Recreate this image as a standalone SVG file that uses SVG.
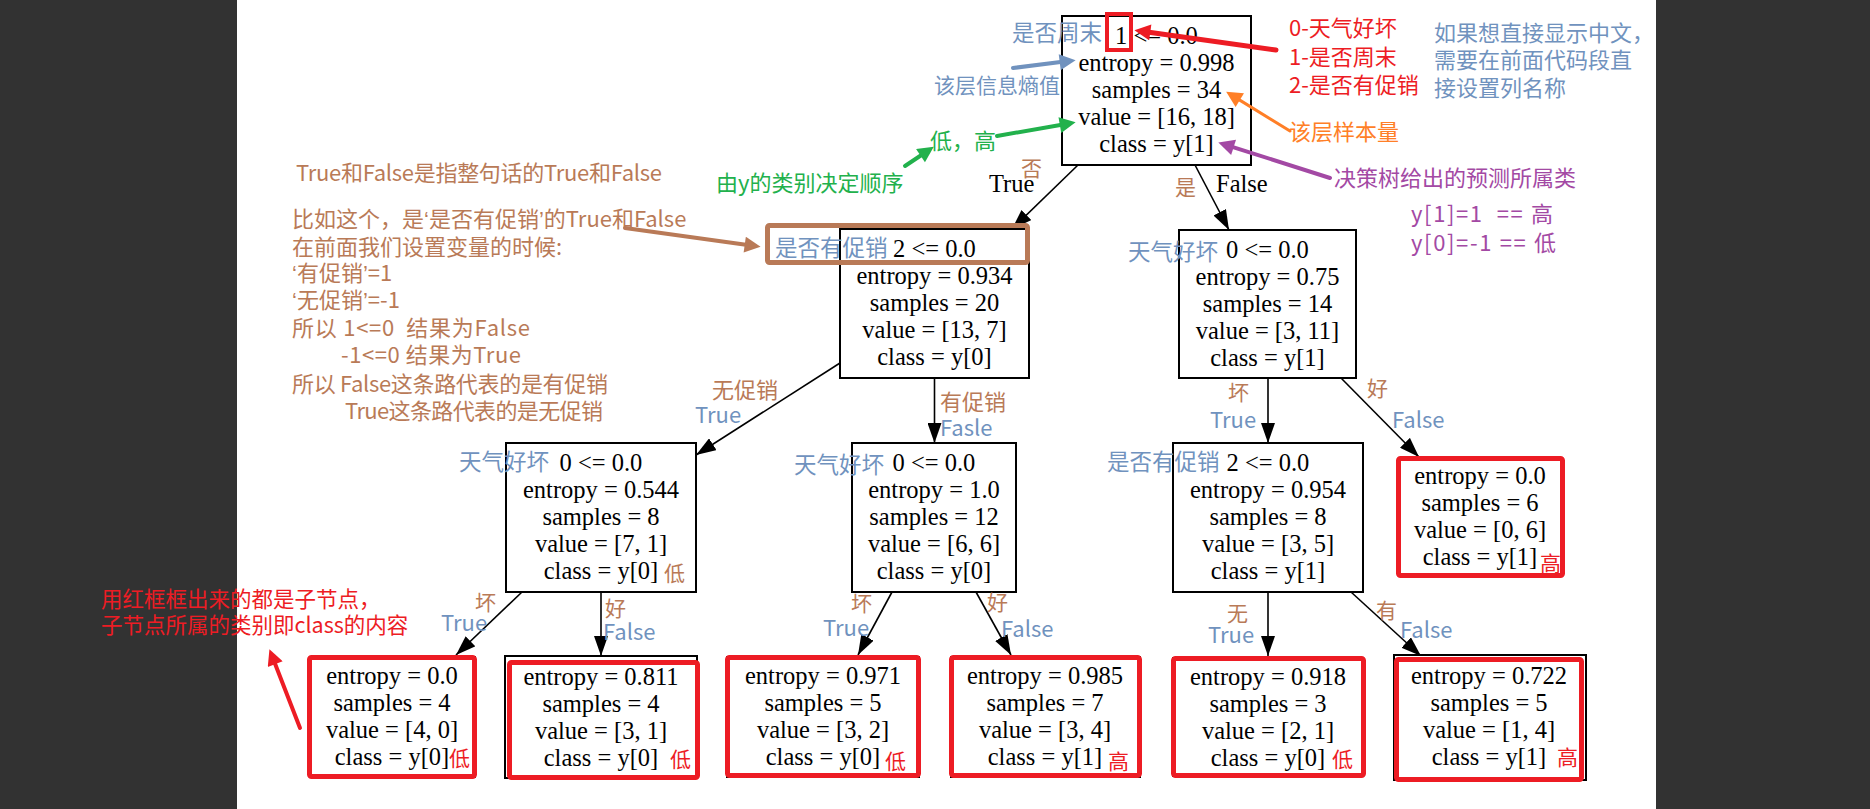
<svg xmlns="http://www.w3.org/2000/svg" width="1870" height="809" viewBox="0 0 1870 809">
<defs>
<style>
.nb{fill:#fff;stroke:#000;stroke-width:2}
.nt{font-family:"Liberation Serif","Times New Roman",serif;font-size:24.5px;fill:#000;text-anchor:middle}
.et{font-family:"Liberation Serif","Times New Roman",serif;font-size:24.5px;fill:#000}
.e{stroke:#000;stroke-width:1.6;fill:none;marker-end:url(#ah)}
.cj{font-family:"Noto Sans CJK SC","Noto Sans",sans-serif;font-size:21px}
.fl{font-size:22.5px}
.el{font-size:22px}
.an22{font-size:22px}
.q{font-family:"Liberation Sans",sans-serif}
.br{fill:#B97A57}.bl{fill:#7092BE}.rd{fill:#ED1C24}.gr{fill:#22B14C}.pu{fill:#A349A4}.or{fill:#FF7F27}
.leaf{fill:none;stroke:#ED1C24;stroke-width:5}
.an{fill:none;stroke-linecap:round}
</style>
<marker id="ah" viewBox="0 0 20 14" refX="20" refY="7" markerWidth="20" markerHeight="14" markerUnits="userSpaceOnUse" orient="auto"><path d="M0,0 L20,7 L0,14 z" fill="#000"/></marker>
<marker id="mRed" viewBox="0 0 10 10" refX="3" refY="5" markerWidth="18" markerHeight="16" markerUnits="userSpaceOnUse" orient="auto"><path d="M0,0 L10,5 L0,10 z" fill="#ED1C24"/></marker>
<marker id="mBlue" viewBox="0 0 10 10" refX="3" refY="5" markerWidth="18" markerHeight="16" markerUnits="userSpaceOnUse" orient="auto"><path d="M0,0 L10,5 L0,10 z" fill="#7092BE"/></marker>
<marker id="mGreen" viewBox="0 0 10 10" refX="3" refY="5" markerWidth="18" markerHeight="16" markerUnits="userSpaceOnUse" orient="auto"><path d="M0,0 L10,5 L0,10 z" fill="#22B14C"/></marker>
<marker id="mOrange" viewBox="0 0 10 10" refX="3" refY="5" markerWidth="18" markerHeight="16" markerUnits="userSpaceOnUse" orient="auto"><path d="M0,0 L10,5 L0,10 z" fill="#FF7F27"/></marker>
<marker id="mPurple" viewBox="0 0 10 10" refX="3" refY="5" markerWidth="18" markerHeight="16" markerUnits="userSpaceOnUse" orient="auto"><path d="M0,0 L10,5 L0,10 z" fill="#A349A4"/></marker>
<marker id="mBrown" viewBox="0 0 10 10" refX="3" refY="5" markerWidth="18" markerHeight="16" markerUnits="userSpaceOnUse" orient="auto"><path d="M0,0 L10,5 L0,10 z" fill="#B97A57"/></marker>
</defs>

<rect x="0" y="0" width="1870" height="809" fill="#323232"/>
<rect x="237" y="0" width="1419" height="809" fill="#fff"/>

<g id="connectors">
<line class="e" x1="1078" y1="165" x2="1012" y2="229"/>
<line class="e" x1="1195" y1="165" x2="1229" y2="230"/>
<line class="e" x1="840" y1="363" x2="696" y2="455"/>
<line class="e" x1="934.5" y1="378" x2="934.5" y2="443"/>
<line class="e" x1="1268" y1="378" x2="1268" y2="443"/>
<line class="e" x1="1341" y1="378" x2="1419" y2="457"/>
<line class="e" x1="522" y1="592" x2="456" y2="655"/>
<line class="e" x1="601" y1="592" x2="601" y2="656"/>
<line class="e" x1="892" y1="592" x2="858" y2="655"/>
<line class="e" x1="976" y1="592" x2="1011" y2="655"/>
<line class="e" x1="1268" y1="592" x2="1268" y2="656"/>
<line class="e" x1="1351" y1="592" x2="1421" y2="656"/>
</g>

<g id="node-root">
<rect class="nb" x="1062" y="16" width="189" height="149"/>
<text class="nt" x="1156.5" y="44">1 &lt;= 0.0</text>
<text class="nt" x="1156.5" y="71">entropy = 0.998</text>
<text class="nt" x="1156.5" y="98">samples = 34</text>
<text class="nt" x="1156.5" y="125">value = [16, 18]</text>
<text class="nt" x="1156.5" y="152">class = y[1]</text>
</g>
<g id="node-a">
<rect class="nb" x="840" y="229" width="189" height="149"/>
<text class="nt" x="934.5" y="257">2 &lt;= 0.0</text>
<text class="nt" x="934.5" y="284">entropy = 0.934</text>
<text class="nt" x="934.5" y="311">samples = 20</text>
<text class="nt" x="934.5" y="338">value = [13, 7]</text>
<text class="nt" x="934.5" y="365">class = y[0]</text>
</g>
<g id="node-b">
<rect class="nb" x="1179" y="230" width="177" height="148"/>
<text class="nt" x="1267.5" y="258">0 &lt;= 0.0</text>
<text class="nt" x="1267.5" y="285">entropy = 0.75</text>
<text class="nt" x="1267.5" y="312">samples = 14</text>
<text class="nt" x="1267.5" y="339">value = [3, 11]</text>
<text class="nt" x="1267.5" y="366">class = y[1]</text>
</g>
<g id="node-c">
<rect class="nb" x="506" y="443" width="190" height="149"/>
<text class="nt" x="601" y="471">0 &lt;= 0.0</text>
<text class="nt" x="601" y="498">entropy = 0.544</text>
<text class="nt" x="601" y="525">samples = 8</text>
<text class="nt" x="601" y="552">value = [7, 1]</text>
<text class="nt" x="601" y="579">class = y[0]</text>
</g>
<g id="node-d">
<rect class="nb" x="852" y="443" width="164" height="149"/>
<text class="nt" x="934" y="471">0 &lt;= 0.0</text>
<text class="nt" x="934" y="498">entropy = 1.0</text>
<text class="nt" x="934" y="525">samples = 12</text>
<text class="nt" x="934" y="552">value = [6, 6]</text>
<text class="nt" x="934" y="579">class = y[0]</text>
</g>
<g id="node-e">
<rect class="nb" x="1173" y="443" width="190" height="149"/>
<text class="nt" x="1268" y="471">2 &lt;= 0.0</text>
<text class="nt" x="1268" y="498">entropy = 0.954</text>
<text class="nt" x="1268" y="525">samples = 8</text>
<text class="nt" x="1268" y="552">value = [3, 5]</text>
<text class="nt" x="1268" y="579">class = y[1]</text>
</g>
<g id="node-f">
<rect class="nb" x="1400" y="459" width="161" height="117"/>
<rect class="leaf" x="1398.5" y="458.5" width="164" height="117" rx="2"/>
<text class="nt" x="1480" y="484">entropy = 0.0</text>
<text class="nt" x="1480" y="511">samples = 6</text>
<text class="nt" x="1480" y="538">value = [0, 6]</text>
<text class="nt" x="1480" y="565">class = y[1]</text>
<text class="cj rd" x="1540" y="571">高</text>
</g>
<g id="node-g">
<rect class="nb" x="310" y="657" width="165" height="120"/>
<rect class="leaf" x="309.5" y="657.5" width="165" height="119" rx="2"/>
<text class="nt" x="392" y="684">entropy = 0.0</text>
<text class="nt" x="392" y="711">samples = 4</text>
<text class="nt" x="392" y="738">value = [4, 0]</text>
<text class="nt" x="392" y="765">class = y[0]</text>
<text class="cj rd" x="449" y="766">低</text>
</g>
<g id="node-h">
<rect class="nb" x="505" y="656" width="192" height="122"/>
<rect class="leaf" x="509.5" y="662.5" width="188" height="115" rx="2"/>
<text class="nt" x="601" y="685">entropy = 0.811</text>
<text class="nt" x="601" y="712">samples = 4</text>
<text class="nt" x="601" y="739">value = [3, 1]</text>
<text class="nt" x="601" y="766">class = y[0]</text>
<text class="cj rd" x="670" y="767">低</text>
</g>
<g id="node-i">
<rect class="nb" x="727" y="657" width="192" height="120"/>
<rect class="leaf" x="727.5" y="657.5" width="191" height="118" rx="2"/>
<text class="nt" x="823" y="684">entropy = 0.971</text>
<text class="nt" x="823" y="711">samples = 5</text>
<text class="nt" x="823" y="738">value = [3, 2]</text>
<text class="nt" x="823" y="765">class = y[0]</text>
<text class="cj rd" x="885" y="769">低</text>
</g>
<g id="node-j">
<rect class="nb" x="951" y="657" width="189" height="120"/>
<rect class="leaf" x="951.5" y="657.5" width="188" height="118" rx="2"/>
<text class="nt" x="1045" y="684">entropy = 0.985</text>
<text class="nt" x="1045" y="711">samples = 7</text>
<text class="nt" x="1045" y="738">value = [3, 4]</text>
<text class="nt" x="1045" y="765">class = y[1]</text>
<text class="cj rd" x="1108" y="769">高</text>
</g>
<g id="node-k">
<rect class="nb" x="1173" y="658" width="190" height="118"/>
<rect class="leaf" x="1173.5" y="658.5" width="190" height="117" rx="2"/>
<text class="nt" x="1268" y="685">entropy = 0.918</text>
<text class="nt" x="1268" y="712">samples = 3</text>
<text class="nt" x="1268" y="739">value = [2, 1]</text>
<text class="nt" x="1268" y="766">class = y[0]</text>
<text class="cj rd" x="1332" y="767">低</text>
</g>
<g id="node-l">
<rect class="nb" x="1394" y="655" width="192" height="125"/>
<rect class="leaf" x="1396.5" y="659.5" width="185" height="120" rx="2"/>
<text class="nt" x="1489" y="684">entropy = 0.722</text>
<text class="nt" x="1489" y="711">samples = 5</text>
<text class="nt" x="1489" y="738">value = [1, 4]</text>
<text class="nt" x="1489" y="765">class = y[1]</text>
<text class="cj rd" x="1557" y="765">高</text>
</g>

<g id="edge-labels">
<text class="et" x="989" y="192">True</text>
<text class="et" x="1216" y="192">False</text>
<text class="cj br" x="1021" y="176">否</text>
<text class="cj br" x="1175" y="195">是</text>
<text class="cj br el" x="712" y="398">无促销</text>
<text class="cj bl el" x="695" y="423">True</text>
<text class="cj br el" x="940" y="410">有促销</text>
<text class="cj bl el" x="940" y="436">Fasle</text>
<text class="cj br" x="1228" y="400">坏</text>
<text class="cj bl el" x="1210" y="428">True</text>
<text class="cj br" x="1367" y="396">好</text>
<text class="cj bl el" x="1392" y="428">False</text>
<text class="cj br" x="475" y="610">坏</text>
<text class="cj bl el" x="441" y="631">True</text>
<text class="cj br" x="605" y="616">好</text>
<text class="cj bl el" x="603" y="640">False</text>
<text class="cj br" x="851" y="611">坏</text>
<text class="cj bl el" x="823" y="636">True</text>
<text class="cj br" x="987" y="610">好</text>
<text class="cj bl el" x="1001" y="637">False</text>
<text class="cj br" x="1227" y="621">无</text>
<text class="cj bl el" x="1208" y="643">True</text>
<text class="cj br" x="1376" y="618">有</text>
<text class="cj bl el" x="1400" y="638">False</text>
</g>

<g id="feature-labels">
<text class="cj bl fl" x="1012" y="41">是否周末</text>
<text class="cj bl fl" x="775" y="256">是否有促销</text>
<text class="cj bl fl" x="1128" y="260">天气好坏</text>
<text class="cj bl fl" x="459" y="470">天气好坏</text>
<text class="cj bl fl" x="794" y="473">天气好坏</text>
<text class="cj bl fl" x="1107" y="470">是否有促销</text>
<text class="cj br" x="664" y="581">低</text>
</g>

<g id="annotations">
<rect x="1107" y="14" width="24" height="36" fill="none" stroke="#ED1C24" stroke-width="4"/>
<rect x="767.5" y="225.5" width="260" height="37" rx="2" fill="none" stroke="#B97A57" stroke-width="5"/>
<line class="an" x1="1276" y1="50" x2="1145.5" y2="31.7" stroke="#ED1C24" stroke-width="5" marker-end="url(#mRed)"/>
<line class="an" x1="1013" y1="68" x2="1064.5" y2="61.6" stroke="#7092BE" stroke-width="4" marker-end="url(#mBlue)"/>
<line class="an" x1="997" y1="136" x2="1064.6" y2="124.2" stroke="#22B14C" stroke-width="4" marker-end="url(#mGreen)"/>
<line class="an" x1="905" y1="166" x2="924.5" y2="153" stroke="#22B14C" stroke-width="4" marker-end="url(#mGreen)"/>
<line class="an" x1="1290" y1="131" x2="1235.7" y2="97.6" stroke="#FF7F27" stroke-width="3" marker-end="url(#mOrange)"/>
<line class="an" x1="1330" y1="178" x2="1229" y2="145.8" stroke="#A349A4" stroke-width="4" marker-end="url(#mPurple)"/>
<line class="an" x1="625" y1="228" x2="749.5" y2="245.3" stroke="#B97A57" stroke-width="4" marker-end="url(#mBrown)"/>
<line class="an" x1="300" y1="728" x2="273.5" y2="659.7" stroke="#ED1C24" stroke-width="4" marker-end="url(#mRed)"/>

<text class="cj rd an22" x="1289" y="36">0-天气好坏</text>
<text class="cj rd an22" x="1289" y="65">1-是否周末</text>
<text class="cj rd an22" x="1289" y="93">2-是否有促销</text>
<text class="cj bl an22" x="1434" y="41">如果想直接显示中文，</text>
<text class="cj bl an22" x="1434" y="68">需要在前面代码段直</text>
<text class="cj bl an22" x="1434" y="96">接设置列名称</text>
<text class="cj bl" x="934" y="93">该层信息熵值</text>
<text class="cj or an22" x="1289" y="140">该层样本量</text>
<text class="cj gr an22" x="930" y="149">低，高</text>
<text class="cj gr an22" x="716" y="191">由y的类别决定顺序</text>
<text class="cj pu an22" x="1334" y="186">决策树给出的预测所属类</text>
<text class="cj pu an22" x="1411" y="222" xml:space="preserve" textLength="142" lengthAdjust="spacing">y[1]=1  == 高</text>
<text class="cj pu an22" x="1411" y="251" xml:space="preserve" textLength="145" lengthAdjust="spacing">y[0]=-1 == 低</text>

<text class="cj br an22" x="296" y="181" textLength="366" lengthAdjust="spacing">True和False是指整句话的True和False</text>
<text class="cj br an22" x="292" y="227">比如这个，是<tspan class="q">‘</tspan>是否有促销<tspan class="q">’</tspan>的True和False</text>
<text class="cj br an22" x="292" y="255">在前面我们设置变量的时候:</text>
<text class="cj br an22" x="292" y="281"><tspan class="q">‘</tspan>有促销<tspan class="q">’</tspan>=1</text>
<text class="cj br an22" x="292" y="308"><tspan class="q">‘</tspan>无促销<tspan class="q">’</tspan>=-1</text>
<text class="cj br an22" x="292" y="336" xml:space="preserve" textLength="238" lengthAdjust="spacing">所以 1&lt;=0  结果为False</text>
<text class="cj br an22" x="341" y="363" textLength="180" lengthAdjust="spacing">-1&lt;=0 结果为True</text>
<text class="cj br an22" x="292" y="392" textLength="316" lengthAdjust="spacing">所以 False这条路代表的是有促销</text>
<text class="cj br an22" x="345" y="419" textLength="258" lengthAdjust="spacing">True这条路代表的是无促销</text>

<text class="cj rd" x="101" y="607" style="font-size:21.5px">用红框框出来的都是子节点，</text>
<text class="cj rd" x="101" y="633" style="font-size:21.5px">子节点所属的类别即class的内容</text>
</g>
</svg>
